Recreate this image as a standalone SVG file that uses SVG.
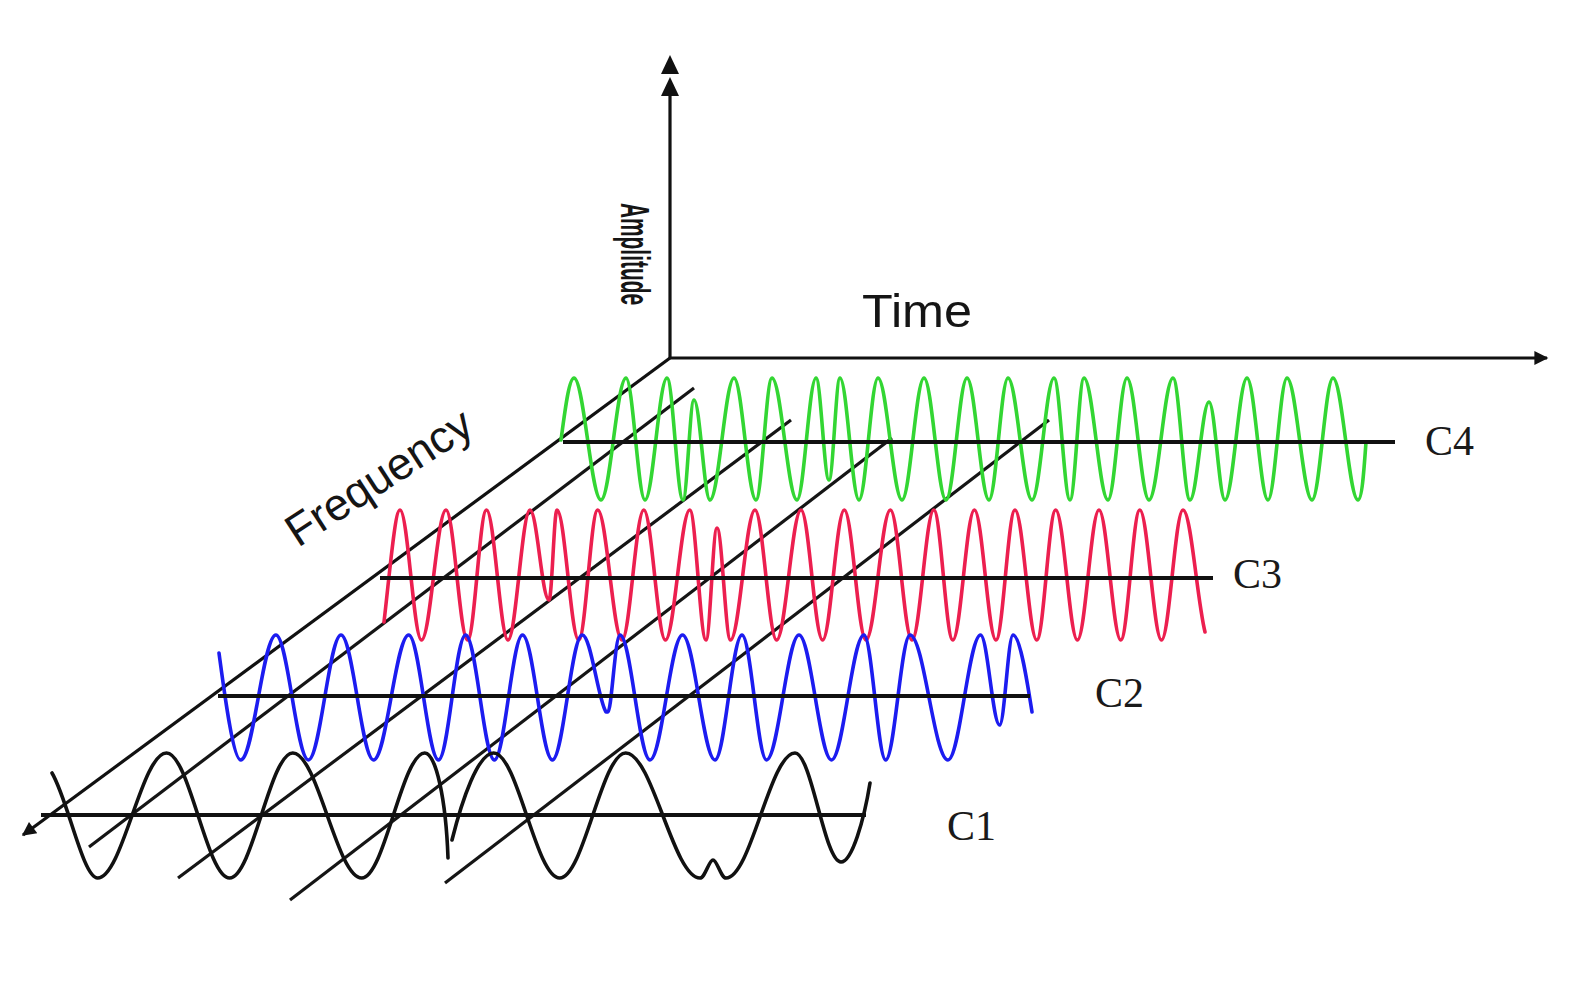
<svg xmlns="http://www.w3.org/2000/svg" width="1591" height="994" viewBox="0 0 1591 994">
<style>
.ax{stroke:#111;stroke-width:3.2;fill:none}
.dg{stroke:#151515;stroke-width:3.2;fill:none}
.bl{stroke:#111;stroke-width:4.2;fill:none}
.wv{fill:none;stroke-width:3.6;stroke-linejoin:round;stroke-linecap:round}
.sans{font-family:"Liberation Sans",Arial,sans-serif;fill:#151515}
.serif{font-family:"Liberation Serif","Times New Roman",serif;fill:#1a1a1a;font-size:42px}
</style>
<defs>
<marker id="ahb" viewBox="0 0 10 10" refX="9" refY="5" markerWidth="24" markerHeight="14" markerUnits="userSpaceOnUse" orient="auto">
<path d="M0,0 L10,5 L0,10 z" fill="#111"/>
</marker>
</defs>
<rect width="1591" height="994" fill="#ffffff"/>

<g id="axes">
<line class="ax" x1="670" y1="358" x2="670" y2="90"/>
<polygon points="670,55 679,74 661,74" fill="#111"/>
<polygon points="670,77 679,96 661,96" fill="#111"/>
<line class="ax" x1="670" y1="358" x2="1547" y2="358" marker-end="url(#ahb)"/>
<line class="ax" x1="670" y1="358" x2="23" y2="835" marker-end="url(#ahb)"/>
<text class="sans" x="862" y="327" font-size="47" textLength="110" lengthAdjust="spacingAndGlyphs">Time</text>
<text class="sans" x="298" y="548" font-size="45" transform="rotate(-33 298 548)">Frequency</text>
<text class="sans" x="203" y="-621" font-size="40" font-weight="bold" textLength="102" lengthAdjust="spacingAndGlyphs" transform="rotate(90)">Amplitude</text>
</g>

<g id="connectors">
<line class="dg" x1="694" y1="388" x2="89" y2="847"/>
<line class="dg" x1="791" y1="420" x2="178" y2="878"/>
<line class="dg" x1="892" y1="438" x2="290" y2="900"/>
<line class="dg" x1="1049" y1="420" x2="445" y2="883"/>
</g>

<g id="c4">
<path class="wv" stroke="#33d633" d="M561,440 C565,410 569,378 574,378 C583.7,378 591.3,500 601,500 C610,500 617,378 626,378 C632.8,378 638.2,500 645,500 C652.9,500 659.1,378 667,378 C672.8,378 677.2,500 683,500 C687,500 690,400 694,400 C699.8,400 704.2,500 710,500 C718.6,500 725.4,378 734,378 C741.9,378 748.1,500 756,500 C761.8,500 766.2,378 772,378 C781,378 788,500 797,500 C803.8,500 809.2,378 816,378 C820.7,378 824.3,480 829,480 C833,480 836,378 840,378 C846.8,378 852.2,500 859,500 C865.8,500 871.2,378 878,378 C886.6,378 893.4,500 902,500 C909.9,500 916.1,378 924,378 C931.9,378 938.1,500 946,500 C953.6,500 959.4,378 967,378 C974.9,378 981.1,500 989,500 C995.8,500 1001.2,378 1008,378 C1016.6,378 1023.4,500 1032,500 C1039.9,500 1046.1,378 1054,378 C1059.8,378 1064.2,500 1070,500 C1075,500 1079,378 1084,378 C1092.6,378 1099.4,500 1108,500 C1114.8,500 1120.2,378 1127,378 C1134.9,378 1141.1,500 1149,500 C1157.6,500 1164.4,378 1173,378 C1179.1,378 1183.9,500 1190,500 C1196.8,500 1202.2,402 1209,402 C1214.8,402 1219.2,500 1225,500 C1232.9,500 1239.1,378 1247,378 C1254.6,378 1260.4,500 1268,500 C1274.8,500 1280.2,378 1287,378 C1296,378 1303,500 1312,500 C1319.6,500 1325.4,378 1333,378 C1342,378 1349,500 1358,500 C1362,500 1364,470 1366,442"/>
<line class="bl" x1="563" y1="442" x2="1395" y2="442"/>
<text class="serif" x="1425" y="455">C4</text>
</g>

<g id="c3">
<path class="wv" stroke="#ec1f4f" d="M384,622 C390,570 395,510 400,510 C407.7,510 413.8,640 421.5,640 C430.3,640 437.2,510 446,510 C453.8,510 459.8,640 467.6,640 C474.4,640 479.7,510 486.5,510 C494.2,510 500.3,640 508,640 C515.9,640 522.1,510 530,510 C537,510 542,600 549,600 C552,600 554,510 557,510 C564.8,510 570.9,640 578.7,640 C585.5,640 590.9,510 597.7,510 C606.4,510 613.3,640 622,640 C629.8,640 636,510 643.8,510 C651.6,510 657.6,640 665.4,640 C674.2,640 681,510 689.8,510 C695.6,510 700.2,640 706,640 C710,640 713,528 717,528 C721.9,528 725.6,640 730.5,640 C739.3,640 746.2,510 755,510 C762.8,510 768.8,640 776.6,640 C785.4,640 792.2,510 801,510 C808.8,510 814.8,640 822.6,640 C830.4,640 836.5,510 844.3,510 C852.1,510 858.2,640 866,640 C874.8,640 881.6,510 890.4,510 C898.2,510 904.2,640 912,640 C919.8,640 926,510 933.8,510 C940.6,510 946,640 952.8,640 C960.6,640 966.6,510 974.4,510 C982.2,510 988.2,640 996,640 C1002.8,640 1008.2,510 1015,510 C1022.8,510 1029,640 1036.8,640 C1043.6,640 1048.9,510 1055.7,510 C1063.5,510 1069.6,640 1077.4,640 C1085.2,640 1091.2,510 1099,510 C1106.8,510 1113,640 1120.8,640 C1127.6,640 1133,510 1139.8,510 C1147.6,510 1153.7,640 1161.5,640 C1169.2,640 1175.3,510 1183,510 C1190.9,510 1197,600 1205,632"/>
<line class="bl" x1="380" y1="578" x2="1213" y2="578"/>
<text class="serif" x="1233" y="588">C3</text>
</g>

<g id="c2">
<path class="wv" stroke="#1c1cf0" d="M219,653 C224,690 233,760 240.7,760 C253.4,760 263.2,635 275.9,635 C287.6,635 296.7,760 308.4,760 C320.1,760 329.3,635 341,635 C352.7,635 361.8,760 373.5,760 C386.2,760 396,635 408.7,635 C419.4,635 427.8,760 438.5,760 C448.3,760 455.8,635 465.6,635 C476,635 484,760 494.4,760 C504.5,760 512.4,635 522.5,635 C533.3,635 541.6,760 552.4,760 C563.1,760 571.5,635 582.2,635 C591,635 598,700 606,712 L608,712 C611.4,712 615.2,635 620,635 C630.8,635 639.2,760 650,760 C661.7,760 670.8,635 682.5,635 C694.2,635 703.3,760 715,760 C724.7,760 732.3,635 742,635 C750.8,635 757.7,760 766.5,760 C778.2,760 787.3,635 799,635 C810.7,635 819.8,760 831.5,760 C843.2,760 852.3,635 864,635 C871.8,635 877.9,760 885.7,760 C894.4,760 901.3,635 910,635 C923.7,635 934.3,760 948,760 C959.7,760 968.9,635 980.6,635 C987.4,635 992.8,725 999.6,725 C1004.4,725 1008.2,635 1013,635 C1020,635 1027,680 1032,712"/>
<line class="bl" x1="218" y1="696" x2="1030" y2="696"/>
<text class="serif" x="1095" y="707">C2</text>
</g>

<g id="c1">
<path class="wv" stroke="#111111" d="M52,773 C68,800 83,878 97.6,878 C122.4,878 141.7,753 166.5,753 C189.2,753 206.9,878 229.6,878 C252.4,878 270,753 292.8,753 C317.6,753 336.9,878 361.7,878 C384.4,878 402.1,753 424.8,753 C436,753 446,800 448,858 M452,840 C462,800 478,753 493.7,753 C517.5,753 535.9,878 559.7,878 C583.5,878 601.9,753 625.7,753 C652.4,753 673.3,878 700,878 C705,878 709,860 713,860 C717,860 721,878 726,878 C750.8,878 770.2,753 795,753 C811.6,753 824.4,862 841,862 C852,862 864,820 870,783"/>
<line class="bl" x1="41" y1="815" x2="866" y2="815"/>
<text class="serif" x="947" y="840">C1</text>
</g>
</svg>
